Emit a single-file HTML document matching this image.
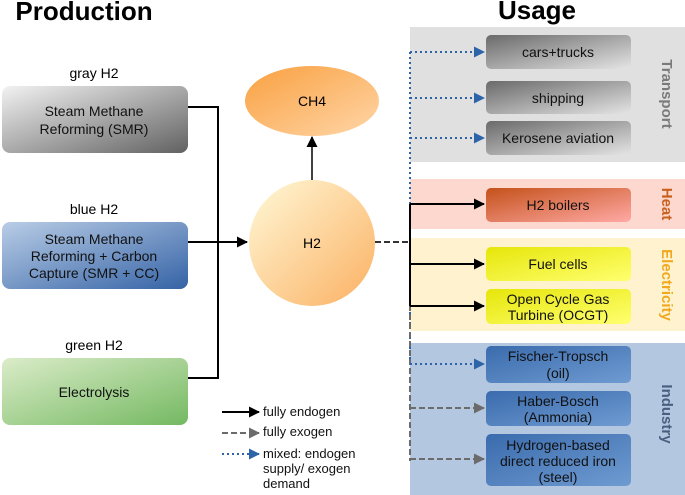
<!DOCTYPE html>
<html><head><meta charset="utf-8"><style>
html,body{margin:0;padding:0;background:#fff;}
svg{display:block;font-family:"Liberation Sans",Arial,sans-serif;}
</style></head><body>
<svg width="685" height="495" viewBox="0 0 685 495" xmlns="http://www.w3.org/2000/svg">
<defs>
<linearGradient id="gGray" x1="0" y1="0" x2="1" y2="1"><stop offset="0" stop-color="#f2f2f2"/><stop offset="1" stop-color="#616161"/></linearGradient>
<linearGradient id="gBlue" x1="0" y1="0" x2="1" y2="1"><stop offset="0" stop-color="#b9cde6"/><stop offset="1" stop-color="#3563a6"/></linearGradient>
<linearGradient id="gGreen" x1="0" y1="0" x2="1" y2="1"><stop offset="0" stop-color="#dbecc9"/><stop offset="1" stop-color="#74b961"/></linearGradient>
<linearGradient id="gCH4" x1="0" y1="0" x2="1" y2="1"><stop offset="0" stop-color="#f9a040"/><stop offset="1" stop-color="#ffd6a8"/></linearGradient>
<linearGradient id="gH2" x1="0" y1="0" x2="1" y2="1"><stop offset="0" stop-color="#fff9d8"/><stop offset="1" stop-color="#fbb062"/></linearGradient>
<linearGradient id="gT" x1="0" y1="0" x2="1" y2="1"><stop offset="0" stop-color="#6a6a6a"/><stop offset="1" stop-color="#e4e4e4"/></linearGradient>
<linearGradient id="gHeat" x1="0" y1="0" x2="1" y2="1"><stop offset="0" stop-color="#c4511a"/><stop offset="1" stop-color="#ffa9a5"/></linearGradient>
<linearGradient id="gEl" x1="0" y1="0" x2="1" y2="1"><stop offset="0" stop-color="#e6e60a"/><stop offset="1" stop-color="#ffff70"/></linearGradient>
<linearGradient id="gInd" x1="0" y1="0" x2="1" y2="1"><stop offset="0" stop-color="#3a6bad"/><stop offset="1" stop-color="#6f9bd1"/></linearGradient>
<marker id="aK" markerWidth="11" markerHeight="11" refX="10" refY="5.5" orient="auto" markerUnits="userSpaceOnUse"><path d="M0,0 L11,5.5 L0,11z" fill="#000"/></marker>
<marker id="aG" markerWidth="11" markerHeight="11" refX="10" refY="5.5" orient="auto" markerUnits="userSpaceOnUse"><path d="M0,0 L11,5.5 L0,11z" fill="#6b6b6b"/></marker>
<marker id="aB" markerWidth="11" markerHeight="11" refX="10" refY="5.5" orient="auto" markerUnits="userSpaceOnUse"><path d="M0,0 L11,5.5 L0,11z" fill="#2d64a8"/></marker>
</defs>

<text x="84" y="20" font-size="26" font-weight="bold" text-anchor="middle">Production</text>
<text x="537" y="19" font-size="26" font-weight="bold" text-anchor="middle">Usage</text>

<rect x="410" y="27" width="275" height="135" fill="#e0e0e0"/>
<rect x="410" y="179" width="275" height="50" fill="#fdd8cf"/>
<rect x="410" y="238" width="275" height="93" fill="#fff3cf"/>
<rect x="410" y="343" width="275" height="152" fill="#b4c7e0"/>
<text transform="translate(666,94) rotate(90)" font-size="15" font-weight="bold" fill="#7a7a7a" text-anchor="middle" dominant-baseline="middle">Transport</text>
<text transform="translate(666,204) rotate(90)" font-size="15" font-weight="bold" fill="#c8601e" text-anchor="middle" dominant-baseline="middle">Heat</text>
<text transform="translate(666,285) rotate(90)" font-size="15" font-weight="bold" fill="#f0a81e" text-anchor="middle" dominant-baseline="middle">Electricity</text>
<text transform="translate(666,414) rotate(90)" font-size="15" font-weight="bold" fill="#485f80" text-anchor="middle" dominant-baseline="middle">Industry</text>

<g font-size="14" text-anchor="middle">
<text x="94" y="78">gray H2</text>
<text x="94" y="214">blue H2</text>
<text x="94" y="350">green H2</text>
</g>
<rect x="2" y="86" width="186" height="67" rx="8" fill="url(#gGray)"/>
<rect x="2" y="222" width="186" height="67" rx="8" fill="url(#gBlue)"/>
<rect x="2" y="358" width="186" height="67" rx="8" fill="url(#gGreen)"/>
<g font-size="14" text-anchor="middle" fill="#111">
<text x="94" y="116">Steam Methane</text>
<text x="94" y="134">Reforming (SMR)</text>
<text x="94" y="244">Steam Methane</text>
<text x="94" y="261">Reforming + Carbon</text>
<text x="94" y="278">Capture (SMR + CC)</text>
<text x="94" y="397">Electrolysis</text>
</g>

<polyline points="188,107 218,107 218,378 188,378" fill="none" stroke="#000" stroke-width="2"/>
<line x1="188" y1="242" x2="247" y2="242" stroke="#000" stroke-width="2" marker-end="url(#aK)"/>

<ellipse cx="312" cy="101" rx="67" ry="35" fill="url(#gCH4)"/>
<text x="312" y="106" font-size="14" text-anchor="middle">CH4</text>
<circle cx="312" cy="243" r="63" fill="url(#gH2)"/>
<text x="312" y="248" font-size="14" text-anchor="middle">H2</text>
<line x1="312" y1="180" x2="312" y2="137" stroke="#000" stroke-width="1.5" marker-end="url(#aK)"/>

<line x1="375" y1="242" x2="410" y2="242" stroke="#333" stroke-width="2" stroke-dasharray="6,3"/>
<line x1="410" y1="52" x2="410" y2="362" stroke="#2d64a8" stroke-width="2" stroke-dasharray="2,3"/>
<line x1="410" y1="242" x2="410" y2="461" stroke="#6b6b6b" stroke-width="2" stroke-dasharray="6,3"/>
<line x1="410" y1="204" x2="410" y2="306" stroke="#000" stroke-width="2"/>

<line x1="410" y1="52" x2="484" y2="52" stroke="#2d64a8" stroke-width="2" stroke-dasharray="2,3" marker-end="url(#aB)"/>
<line x1="410" y1="98" x2="484" y2="98" stroke="#2d64a8" stroke-width="2" stroke-dasharray="2,3" marker-end="url(#aB)"/>
<line x1="410" y1="138" x2="484" y2="138" stroke="#2d64a8" stroke-width="2" stroke-dasharray="2,3" marker-end="url(#aB)"/>
<line x1="410" y1="204" x2="484" y2="204" stroke="#000" stroke-width="2" marker-end="url(#aK)"/>
<line x1="410" y1="264" x2="484" y2="264" stroke="#000" stroke-width="2" marker-end="url(#aK)"/>
<line x1="410" y1="306" x2="484" y2="306" stroke="#000" stroke-width="2" marker-end="url(#aK)"/>
<line x1="410" y1="364" x2="484" y2="364" stroke="#2d64a8" stroke-width="2" stroke-dasharray="2,3" marker-end="url(#aB)"/>
<line x1="410" y1="408" x2="484" y2="408" stroke="#6b6b6b" stroke-width="2" stroke-dasharray="6,3" marker-end="url(#aG)"/>
<line x1="410" y1="459" x2="484" y2="459" stroke="#6b6b6b" stroke-width="2" stroke-dasharray="6,3" marker-end="url(#aG)"/>

<rect x="486" y="35" width="145" height="34" rx="5" fill="url(#gT)"/>
<rect x="486" y="81" width="145" height="33" rx="5" fill="url(#gT)"/>
<rect x="486" y="121" width="145" height="34" rx="5" fill="url(#gT)"/>
<rect x="486" y="188" width="145" height="34" rx="5" fill="url(#gHeat)"/>
<rect x="486" y="247" width="145" height="34" rx="5" fill="url(#gEl)"/>
<rect x="486" y="289" width="145" height="35" rx="5" fill="url(#gEl)"/>
<rect x="486" y="346" width="145" height="37" rx="5" fill="url(#gInd)"/>
<rect x="486" y="391" width="145" height="35" rx="5" fill="url(#gInd)"/>
<rect x="486" y="434" width="145" height="52" rx="5" fill="url(#gInd)"/>
<g font-size="14" text-anchor="middle" fill="#111">
<text x="558" y="57">cars+trucks</text>
<text x="558" y="103">shipping</text>
<text x="558" y="143">Kerosene aviation</text>
<text x="558" y="210">H2 boilers</text>
<text x="558" y="269">Fuel cells</text>
<text x="558" y="304">Open Cycle Gas</text>
<text x="558" y="320">Turbine (OCGT)</text>
<text x="558" y="361">Fischer-Tropsch</text>
<text x="558" y="378">(oil)</text>
<text x="558" y="406">Haber-Bosch</text>
<text x="558" y="422">(Ammonia)</text>
<text x="558" y="450">Hydrogen-based</text>
<text x="558" y="466">direct reduced iron</text>
<text x="558" y="482">(steel)</text>
</g>

<line x1="222" y1="412" x2="259" y2="412" stroke="#000" stroke-width="2" marker-end="url(#aK)"/>
<line x1="222" y1="433" x2="259" y2="433" stroke="#6b6b6b" stroke-width="2" stroke-dasharray="6,3" marker-end="url(#aG)"/>
<line x1="222" y1="454" x2="259" y2="454" stroke="#2d64a8" stroke-width="2" stroke-dasharray="2,3" marker-end="url(#aB)"/>
<g font-size="13" fill="#111">
<text x="263" y="416">fully endogen</text>
<text x="263" y="436">fully exogen</text>
<text x="263" y="458">mixed: endogen</text>
<text x="263" y="473">supply/ exogen</text>
<text x="263" y="488">demand</text>
</g>
</svg>
</body></html>
